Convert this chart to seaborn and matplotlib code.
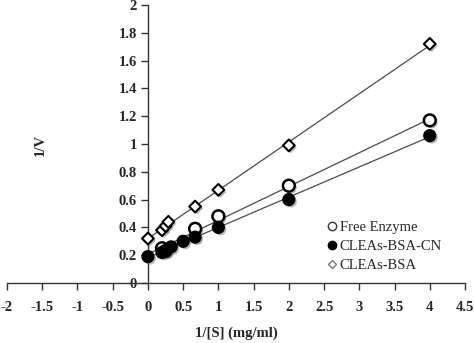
import numpy as np
import pandas as pd
import matplotlib
matplotlib.use("Agg")
import matplotlib.pyplot as plt
import matplotlib.patheffects as pe
from matplotlib.lines import Line2D
import seaborn as sns

# Data
free_x = [0.2, 0.25, 0.67, 1.0, 2.0, 4.0]
free_y = [0.25, 0.23, 0.39, 0.48, 0.70, 1.17]
cn_x = [0.0, 0.2, 0.25, 0.33, 0.5, 0.67, 1.0, 2.0, 4.0]
cn_y = [0.19, 0.22, 0.23, 0.26, 0.30, 0.33, 0.40, 0.60, 1.06]
bsa_x = [0.0, 0.2, 0.25, 0.29, 0.67, 1.0, 2.0, 4.0]
bsa_y = [0.32, 0.38, 0.41, 0.44, 0.55, 0.67, 0.99, 1.72]
labels = ["Free Enzyme", "CLEAs-BSA-CN", "CLEAs-BSA"]
x_ticks = [-2, -1.5, -1, -0.5, 0, 0.5, 1, 1.5, 2, 2.5, 3, 3.5, 4, 4.5]
y_ticks = [0, 0.2, 0.4, 0.6, 0.8, 1, 1.2, 1.4, 1.6, 1.8, 2]

sns.set_style("white")
plt.rcParams['font.family'] = ['Liberation Serif', 'DejaVu Serif']

fig = plt.figure(figsize=(4.74, 3.43), dpi=100)
ax = fig.add_axes([7/474, 1 - 283/343, 458/474, 278/343])

line_color = "#4a4a4a"
shadow = [pe.SimplePatchShadow(offset=(1.5, -1.5), shadow_rgbFace="#666666", alpha=0.45), pe.Normal()]

# fitted lines
fit_range = np.array([0.0, 4.0])
for xs, ys in [(free_x, free_y), (cn_x, cn_y), (bsa_x, bsa_y)]:
    m, b = np.polyfit(xs, ys, 1)
    d = pd.DataFrame({"x": fit_range, "y": m * fit_range + b})
    sns.lineplot(data=d, x="x", y="y", ax=ax, color=line_color, lw=0.9, zorder=2)

series = [
    (free_x, free_y, "o", "white", 8.5, 1.8),
    (cn_x, cn_y, "o", "black", 8.5, 1.0),
    (bsa_x, bsa_y, "D", "white", 6.0, 1.5),
]
for xs, ys, mk, fc, ms, mew in series:
    d = pd.DataFrame({"x": xs, "y": ys})
    sns.scatterplot(data=d, x="x", y="y", ax=ax, marker=mk, s=ms**2,
                    facecolor=fc, edgecolor="black", linewidth=mew, zorder=3)
for coll in ax.collections:
    coll.set_path_effects(shadow)

ax.set_xlim(-2, 4.5)
ax.set_ylim(0, 2)
ax.spines['left'].set_position(('data', 0))
ax.spines['bottom'].set_position(('data', 0))
ax.spines['right'].set_visible(False)
ax.spines['top'].set_visible(False)
for s in ['left', 'bottom']:
    ax.spines[s].set_color("#333333")
    ax.spines[s].set_linewidth(1.0)
ax.set_xticks(x_ticks)
ax.set_xticklabels([f"{t:g}" for t in x_ticks])
ax.set_yticks(y_ticks)
ax.set_yticklabels([f"{t:g}" for t in y_ticks])
ax.tick_params(axis='both', direction='out', length=5, width=1, color="#333333",
               labelsize=10.5, pad=3, bottom=True, left=True)
for lab in ax.get_xticklabels() + ax.get_yticklabels():
    lab.set_fontweight('bold')
ax.tick_params(axis='x', pad=8)
ax.set_xlabel("")
ax.set_ylabel("")

fig.text(236/474, 1 - 333/343, "1/[S] (mg/ml)", ha='center', va='center',
         fontsize=10.5, fontweight='bold')
fig.text(40/474, 1 - 145/343, "1/V", ha='center', va='center', rotation=90,
         fontsize=10.5, fontweight='bold')

handles = [
    Line2D([], [], marker='o', ls='none', mfc='white', mec='#333333', ms=6, mew=1),
    Line2D([], [], marker='o', ls='none', mfc='black', mec='black', ms=6),
    Line2D([], [], marker='D', ls='none', mfc='white', mec='#777777', ms=4.5, mew=1),
]
ax.legend(handles, labels, loc='upper left', bbox_to_anchor=(328/474, 1 - 221/343),
          bbox_transform=fig.transFigure, frameon=False, fontsize=10.5,
          handlelength=0.6, handletextpad=0.2, labelspacing=0.4, borderaxespad=0,
          borderpad=0)

fig.savefig("out.png", dpi=100)
